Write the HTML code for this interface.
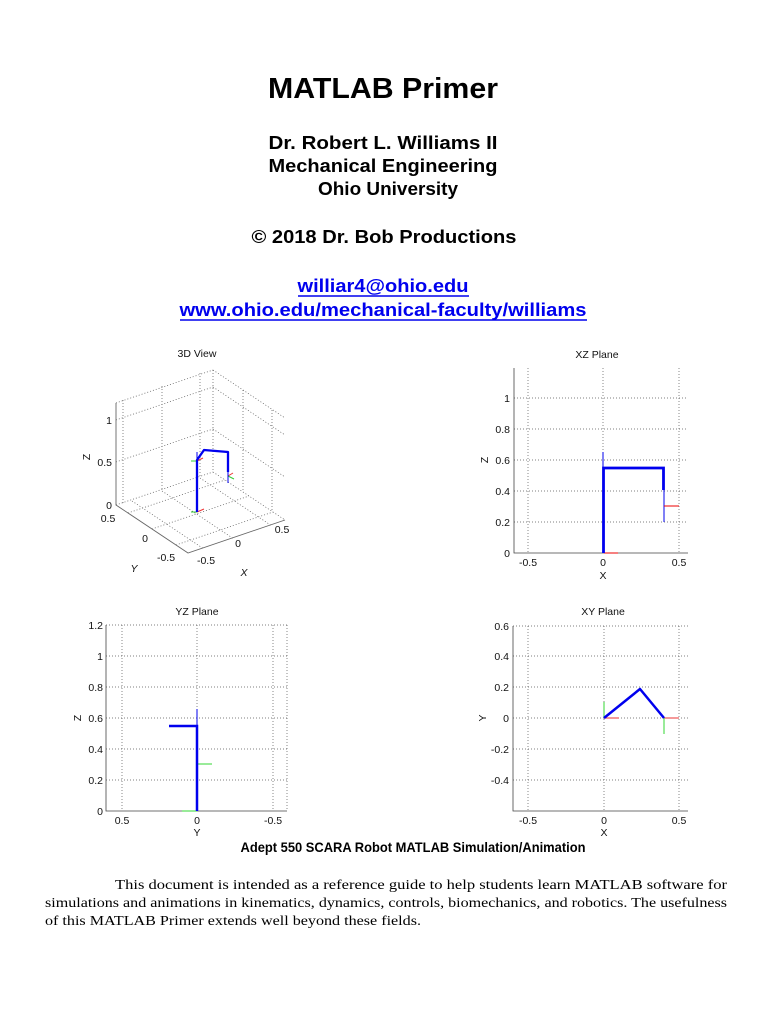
<!DOCTYPE html>
<html><head><meta charset="utf-8"><style>
html,body{margin:0;padding:0;background:#fff;}
svg{display:block;}
</style></head><body>
<svg width="768" height="1024" viewBox="0 0 768 1024" xmlns="http://www.w3.org/2000/svg">
<rect width="768" height="1024" fill="#fff"/>
<g font-family="Liberation Sans, sans-serif" font-weight="bold" fill="#000" text-anchor="middle">
<text x="383" y="98" font-size="29" textLength="230" lengthAdjust="spacingAndGlyphs">MATLAB Primer</text>
<text x="383" y="149" font-size="18" textLength="229" lengthAdjust="spacingAndGlyphs">Dr. Robert L. Williams II</text>
<text x="383" y="172" font-size="18" textLength="229" lengthAdjust="spacingAndGlyphs">Mechanical Engineering</text>
<text x="388" y="195" font-size="18" textLength="140" lengthAdjust="spacingAndGlyphs">Ohio University</text>
<text x="384" y="243" font-size="18" textLength="265" lengthAdjust="spacingAndGlyphs">© 2018 Dr. Bob Productions</text>
<text x="383" y="292" font-size="18" fill="#0000ee" textLength="171" lengthAdjust="spacingAndGlyphs">williar4@ohio.edu</text>
<text x="383" y="316" font-size="18" fill="#0000ee" textLength="407" lengthAdjust="spacingAndGlyphs">www.ohio.edu/mechanical-faculty/williams</text>
<text x="413" y="852" font-size="14" textLength="345" lengthAdjust="spacingAndGlyphs">Adept 550 SCARA Robot MATLAB Simulation/Animation</text>
</g>
<line x1="298" y1="296" x2="469" y2="296" stroke="#0000ee" stroke-width="1.5"/>
<line x1="180" y1="320" x2="587" y2="320" stroke="#0000ee" stroke-width="1.5"/>
<g font-family="Liberation Serif, serif" font-size="13.5" fill="#000">
<text x="115" y="889" textLength="612" lengthAdjust="spacingAndGlyphs">This document is intended as a reference guide to help students learn MATLAB software for</text>
<text x="45" y="907" textLength="682" lengthAdjust="spacingAndGlyphs">simulations and animations in kinematics, dynamics, controls, biomechanics, and robotics.  The usefulness</text>
<text x="45" y="925" textLength="376" lengthAdjust="spacingAndGlyphs">of this MATLAB Primer extends well beyond these fields.</text>
</g>

<g font-family="Liberation Sans, sans-serif" font-size="10.5" fill="#111">
<!-- XZ plane -->
<text x="597" y="358" text-anchor="middle">XZ Plane</text>
<g stroke="#555" stroke-width="0.7" stroke-dasharray="1,2" fill="none">
<line x1="528" y1="368" x2="528" y2="553"/><line x1="603" y1="368" x2="603" y2="553"/><line x1="679" y1="368" x2="679" y2="553"/>
<line x1="514" y1="522" x2="688" y2="522"/><line x1="514" y1="491" x2="688" y2="491"/><line x1="514" y1="460" x2="688" y2="460"/><line x1="514" y1="429" x2="688" y2="429"/><line x1="514" y1="398" x2="688" y2="398"/>
</g>
<path d="M514 368 V553 H688" stroke="#444" stroke-width="0.8" fill="none"/>
<g text-anchor="end"><text x="510" y="557">0</text><text x="510" y="526">0.2</text><text x="510" y="495">0.4</text><text x="510" y="464">0.6</text><text x="510" y="433">0.8</text><text x="510" y="402">1</text></g>
<g text-anchor="middle"><text x="528" y="566">-0.5</text><text x="603" y="566">0</text><text x="679" y="566">0.5</text><text x="603" y="579">X</text></g>
<text transform="translate(488,460) rotate(-90)" text-anchor="middle">Z</text>
<g fill="none">
<line x1="603" y1="468" x2="603" y2="452" stroke="#0000ee" stroke-width="1"/>
<line x1="664" y1="480" x2="664" y2="522" stroke="#0000ee" stroke-width="1"/>
<line x1="604" y1="468" x2="618" y2="468" stroke="#e00" stroke-width="1"/>
<line x1="664" y1="506" x2="679" y2="506" stroke="#e00" stroke-width="1"/>
<line x1="604" y1="553" x2="618" y2="553" stroke="#e00" stroke-width="1"/>
<path d="M603.5 553 V468 H663.5 V490" stroke="#0000ee" stroke-width="2.8"/>
</g>

<!-- YZ plane -->
<text x="197" y="615" text-anchor="middle">YZ Plane</text>
<g stroke="#555" stroke-width="0.7" stroke-dasharray="1,2" fill="none">
<line x1="122" y1="625" x2="122" y2="811"/><line x1="197" y1="625" x2="197" y2="811"/><line x1="273" y1="625" x2="273" y2="811"/><line x1="287" y1="625" x2="287" y2="811"/>
<line x1="106" y1="780" x2="287" y2="780"/><line x1="106" y1="749" x2="287" y2="749"/><line x1="106" y1="718" x2="287" y2="718"/><line x1="106" y1="687" x2="287" y2="687"/><line x1="106" y1="656" x2="287" y2="656"/><line x1="106" y1="625" x2="287" y2="625"/>
</g>
<path d="M106 625 V811 H287" stroke="#444" stroke-width="0.8" fill="none"/>
<g text-anchor="end"><text x="103" y="815">0</text><text x="103" y="784">0.2</text><text x="103" y="753">0.4</text><text x="103" y="722">0.6</text><text x="103" y="691">0.8</text><text x="103" y="660">1</text><text x="103" y="629">1.2</text></g>
<g text-anchor="middle"><text x="122" y="824">0.5</text><text x="197" y="824">0</text><text x="273" y="824">-0.5</text><text x="197" y="836">Y</text></g>
<text transform="translate(81,718) rotate(-90)" text-anchor="middle">Z</text>
<g fill="none">
<line x1="197" y1="726" x2="197" y2="709" stroke="#0000ee" stroke-width="1"/>
<line x1="198" y1="764" x2="212" y2="764" stroke="#5d5" stroke-width="1.2"/>
<line x1="182" y1="811" x2="197" y2="811" stroke="#5d5" stroke-width="1.2"/>
<path d="M197 811 V726 H169" stroke="#0000ee" stroke-width="2.5"/>
</g>

<!-- XY plane -->
<text x="603" y="615" text-anchor="middle">XY Plane</text>
<g stroke="#555" stroke-width="0.7" stroke-dasharray="1,2" fill="none">
<line x1="528" y1="626" x2="528" y2="811"/><line x1="604" y1="626" x2="604" y2="811"/><line x1="679" y1="626" x2="679" y2="811"/>
<line x1="513" y1="780" x2="688" y2="780"/><line x1="513" y1="749" x2="688" y2="749"/><line x1="513" y1="718" x2="688" y2="718"/><line x1="513" y1="687" x2="688" y2="687"/><line x1="513" y1="656" x2="688" y2="656"/><line x1="513" y1="626" x2="688" y2="626"/>
</g>
<path d="M513 626 V811 H688" stroke="#444" stroke-width="0.8" fill="none"/>
<g text-anchor="end"><text x="509" y="630">0.6</text><text x="509" y="660">0.4</text><text x="509" y="691">0.2</text><text x="509" y="722">0</text><text x="509" y="753">-0.2</text><text x="509" y="784">-0.4</text></g>
<g text-anchor="middle"><text x="528" y="824">-0.5</text><text x="604" y="824">0</text><text x="679" y="824">0.5</text><text x="604" y="836">X</text></g>
<text transform="translate(486,718) rotate(-90)" text-anchor="middle">Y</text>
<g fill="none">
<line x1="604" y1="718" x2="619" y2="718" stroke="#e55" stroke-width="1.2"/>
<line x1="664" y1="718" x2="679" y2="718" stroke="#e55" stroke-width="1.2"/>
<line x1="604" y1="718" x2="604" y2="702" stroke="#5d5" stroke-width="1.2"/>
<line x1="664" y1="718" x2="664" y2="734" stroke="#5d5" stroke-width="1.2"/>
<path d="M604 718 L640 689 L664 718" stroke="#0000ee" stroke-width="2.5" stroke-linejoin="round"/>
</g>

<!-- 3D view -->
<text x="197" y="357" text-anchor="middle">3D View</text>
<g stroke="#555" stroke-width="0.7" stroke-dasharray="1,2" fill="none">
<!-- back-left wall -->
<line x1="116" y1="403" x2="213" y2="370"/>
<line x1="116" y1="420" x2="213" y2="387"/>
<line x1="116" y1="462" x2="213" y2="429"/>
<line x1="116" y1="505" x2="213" y2="472"/>
<line x1="123" y1="400" x2="123" y2="503"/>
<line x1="162" y1="386" x2="162" y2="489"/>
<line x1="200" y1="373" x2="200" y2="476"/>
<line x1="213" y1="370" x2="213" y2="472"/>
<!-- back-right wall -->
<line x1="213" y1="370" x2="285" y2="418"/>
<line x1="213" y1="387" x2="285" y2="435"/>
<line x1="213" y1="429" x2="285" y2="477"/>
<line x1="213" y1="472" x2="285" y2="520"/>
<line x1="243" y1="390" x2="243" y2="492"/>
<line x1="272" y1="410" x2="272" y2="511"/>
<!-- floor grid -->
<line x1="128" y1="513" x2="225" y2="480"/>
<line x1="152" y1="529" x2="249" y2="496"/>
<line x1="176" y1="545" x2="273" y2="512"/>
<line x1="132" y1="501" x2="204" y2="549"/>
<line x1="162" y1="491" x2="234" y2="539"/>
<line x1="200" y1="478" x2="272" y2="526"/>
</g>
<path d="M116 403 V505 L188 553 L285 520" stroke="#666" stroke-width="0.9" fill="none"/>
<g text-anchor="end"><text x="112" y="424">1</text><text x="112" y="466">0.5</text><text x="112" y="509">0</text></g>
<g text-anchor="middle">
<text x="108" y="522">0.5</text><text x="145" y="542">0</text><text x="166" y="561">-0.5</text>
<text x="206" y="564">-0.5</text><text x="238" y="547">0</text><text x="282" y="533">0.5</text>
<text x="134" y="572" font-style="italic">Y</text><text x="244" y="576" font-style="italic">X</text>
</g>
<text transform="translate(90,457) rotate(-90)" text-anchor="middle">Z</text>
<g fill="none">
<line x1="191" y1="461" x2="197" y2="461" stroke="#3c3" stroke-width="1"/>
<line x1="197" y1="461" x2="203" y2="458" stroke="#e33" stroke-width="1"/>
<line x1="191" y1="512" x2="197" y2="512" stroke="#3c3" stroke-width="1"/>
<line x1="197" y1="512" x2="204" y2="509" stroke="#e33" stroke-width="1"/>
<line x1="228" y1="476" x2="233" y2="473" stroke="#e33" stroke-width="1"/>
<line x1="228" y1="476" x2="234" y2="479" stroke="#3c3" stroke-width="1"/>
<line x1="197" y1="460" x2="197" y2="452" stroke="#0000ee" stroke-width="1"/>
<line x1="228" y1="470" x2="228" y2="483" stroke="#0000ee" stroke-width="1"/>
<path d="M197 512 V460 L204 450 L228 452 V472" stroke="#0000ee" stroke-width="2.3" stroke-linejoin="round"/>
</g>
</g>
</svg>
</body></html>
